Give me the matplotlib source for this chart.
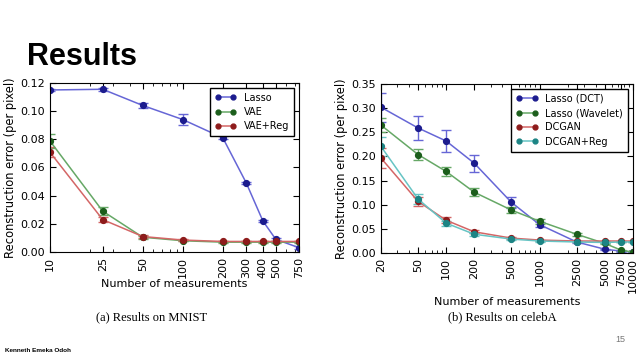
import matplotlib
matplotlib.use("Agg")
import matplotlib.pyplot as plt
from matplotlib.lines import Line2D
from matplotlib.ticker import FixedLocator, FixedFormatter, FormatStrFormatter, LogLocator, NullFormatter

# MNIST
mnist_x = [10, 25, 50, 100, 200, 300, 400, 500, 750]
mnist_lasso = [0.115, 0.1155, 0.104, 0.094, 0.081, 0.049, 0.022, 0.009, 0.003]
mnist_lasso_err = [0.001, 0.001, 0.002, 0.004, 0.001, 0.001, 0.001, 0.001, 0.001]
mnist_vae = [0.079, 0.029, 0.0105, 0.008, 0.007, 0.007, 0.007, 0.007, 0.007]
mnist_vae_err = [0.005, 0.003, 0.001, 0.0005, 0.0005, 0.0005, 0.0005, 0.0005, 0.0005]
mnist_vaereg = [0.071, 0.023, 0.011, 0.0085, 0.0075, 0.0075, 0.0075, 0.0075, 0.0075]
mnist_vaereg_err = [0.0035, 0.002, 0.001, 0.0005, 0.0005, 0.0005, 0.0005, 0.0005, 0.0005]

# celebA
celeb_x = [20, 50, 100, 200, 500, 1000, 2500, 5000, 7500, 10000]
celeb_dct = [0.302, 0.259, 0.232, 0.186, 0.105, 0.059, 0.023, 0.008, 0.004, 0.002]
celeb_dct_err = [0.03, 0.025, 0.023, 0.018, 0.012, 0.005, 0.002, 0.001, 0.001, 0.001]
celeb_wav = [0.265, 0.204, 0.169, 0.126, 0.089, 0.066, 0.039, 0.020, 0.006, 0.002]
celeb_wav_err = [0.015, 0.012, 0.010, 0.008, 0.006, 0.005, 0.003, 0.001, 0.001, 0.001]
celeb_dcgan = [0.197, 0.107, 0.068, 0.044, 0.031, 0.027, 0.025, 0.025, 0.025, 0.025]
celeb_dcgan_err = [0.02, 0.01, 0.006, 0.003, 0.002, 0.001, 0.001, 0.001, 0.001, 0.001]
celeb_dcganreg = [0.221, 0.112, 0.062, 0.039, 0.029, 0.025, 0.023, 0.022, 0.023, 0.023]
celeb_dcganreg_err = [0.02, 0.01, 0.005, 0.003, 0.002, 0.001, 0.001, 0.001, 0.001, 0.001]

# couleur de ligne claire, marqueur foncé
styles = {
    "b": ("#6666d6", "#1c1c8e"),
    "g": ("#66a866", "#1c5e1c"),
    "r": ("#d46666", "#8e1c1c"),
    "c": ("#66c4c4", "#1c8484"),
}

fs = 8


def tracer(ax, x, y, err, col):
    lc, mc = styles[col]
    ax.errorbar(x, y, yerr=err, color=lc, ecolor=lc, lw=1.1, elinewidth=1.0,
                capsize=3.5, capthick=1.0, marker="o", ms=4.2, mfc=mc, mec=mc)


def legende(ax, cols, labels):
    poignees = []
    for c in cols:
        lc, mc = styles[c]
        poignees.append(Line2D([], [], color=lc, lw=1.1, marker="o", ms=3.5, mfc=mc, mec=mc))
    ax.legend(poignees, labels, loc="upper right", fontsize=7, numpoints=2,
              fancybox=False, edgecolor="black", framealpha=1, handlelength=2.2,
              borderpad=0.5, labelspacing=0.45)


def habiller(ax, x, ylim, yticks, pad):
    ax.set_xscale("log")
    ax.set_xlim(x[0], x[-1])
    ax.set_ylim(*ylim)
    ax.xaxis.set_major_locator(FixedLocator(x))
    ax.xaxis.set_major_formatter(FixedFormatter([str(v) for v in x]))
    ax.xaxis.set_minor_locator(LogLocator(base=10, subs=range(2, 10)))
    ax.xaxis.set_minor_formatter(NullFormatter())
    ax.set_yticks(yticks)
    ax.yaxis.set_major_formatter(FormatStrFormatter("%.2f"))
    ax.tick_params(which="both", direction="in", top=True, right=True, labelsize=fs)
    ax.tick_params(which="major", length=4)
    ax.tick_params(which="minor", length=2)
    plt.setp(ax.get_xticklabels(), rotation=90)
    for s in ax.spines.values():
        s.set_linewidth(0.8)
    ax.set_xlabel("Number of measurements", fontsize=fs, labelpad=pad)
    ax.set_ylabel("Reconstruction error (per pixel)", fontsize=8.3, labelpad=2)


fig = plt.figure(figsize=(6.38, 3.59), dpi=100)
fig.patch.set_facecolor("white")

ax1 = fig.add_axes([0.078, 0.298, 0.391, 0.471])
tracer(ax1, mnist_x, mnist_lasso, mnist_lasso_err, "b")
tracer(ax1, mnist_x, mnist_vae, mnist_vae_err, "g")
tracer(ax1, mnist_x, mnist_vaereg, mnist_vaereg_err, "r")
habiller(ax1, mnist_x, (0, 0.12), [0, 0.02, 0.04, 0.06, 0.08, 0.10, 0.12], 1)
legende(ax1, ["b", "g", "r"], ["Lasso", "VAE", "VAE+Reg"])

ax2 = fig.add_axes([0.597, 0.295, 0.395, 0.471])
tracer(ax2, celeb_x, celeb_dct, celeb_dct_err, "b")
tracer(ax2, celeb_x, celeb_wav, celeb_wav_err, "g")
tracer(ax2, celeb_x, celeb_dcgan, celeb_dcgan_err, "r")
tracer(ax2, celeb_x, celeb_dcganreg, celeb_dcganreg_err, "c")
habiller(ax2, celeb_x, (0, 0.35), [0, 0.05, 0.10, 0.15, 0.20, 0.25, 0.30, 0.35], 3)
legende(ax2, ["b", "g", "r", "c"], ["Lasso (DCT)", "Lasso (Wavelet)", "DCGAN", "DCGAN+Reg"])

fig.text(0.042, 0.84, "Results", fontsize=22, fontweight="bold",
         family="Liberation Sans", va="center")
fig.text(0.238, 0.115, "(a) Results on MNIST", fontsize=9, family="Liberation Serif",
         ha="center", va="center")
fig.text(0.787, 0.115, "(b) Results on celebA", fontsize=9, family="Liberation Serif",
         ha="center", va="center")
fig.text(0.98, 0.055, "15", fontsize=6.5, color="#777777", family="Liberation Sans",
         ha="right", va="center")
fig.text(0.008, 0.025, "Kenneth Emeka Odoh", fontsize=4.6, fontweight="bold",
         family="Liberation Sans", va="center")

fig.savefig("out.png", dpi=100, facecolor="white")
